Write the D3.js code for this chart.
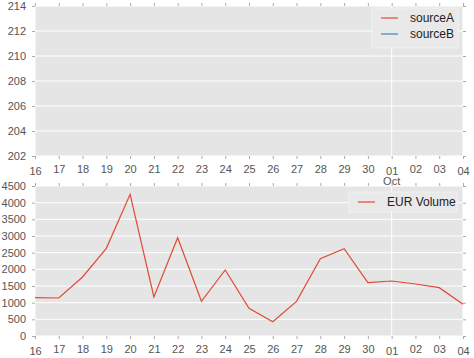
<!DOCTYPE html>
<html>
<head>
<meta charset="utf-8">
<script src="https://cdn.jsdelivr.net/npm/d3@7"></script>
<style>
  body { margin: 0; background: #fff; }
  svg text { font-family: "Liberation Sans", Arial, sans-serif; }
</style>
</head>
<body>
<div id="chart"></div>
<script>
// data
const days = ["2014-09-16", "2014-09-17", "2014-09-18", "2014-09-19", "2014-09-20", "2014-09-21",
    "2014-09-22", "2014-09-23", "2014-09-24", "2014-09-25", "2014-09-26", "2014-09-27",
    "2014-09-28", "2014-09-29", "2014-09-30", "2014-10-01", "2014-10-02", "2014-10-03", "2014-10-04"];
const eurVolume = [1150, 1140, 1770, 2630, 4250, 1170, 2950, 1040, 1980, 830, 430, 1040,
    2320, 2620, 1600, 1650, 1560, 1450, 950];
const sourceA = [];
const sourceB = [];
const topTicks = [202, 204, 206, 208, 210, 212, 214];
const bottomTicks = [0, 500, 1000, 1500, 2000, 2500, 3000, 3500, 4000, 4500];
const majorDays = ["2014-09-16", "2014-10-01", "2014-10-04"];

const parse = d3.timeParse("%Y-%m-%d");
const dates = days.map(parse);
const majors = majorDays.map(d => +parse(d));

const W = 474, H = 358;
const left = 35, right = 463;
const panels = [
    { top: 6, bottom: 156, domain: [202, 214], ticks: topTicks, month: true,
      series: [{ name: "sourceA", values: sourceA, color: "#E24A33" },
               { name: "sourceB", values: sourceB, color: "#348ABD" }],
      legend: { x: 372, y: 8, w: 86, h: 40 } },
    { top: 186, bottom: 336, domain: [0, 4500], ticks: bottomTicks, month: false,
      series: [{ name: "EUR Volume", values: eurVolume, color: "#E24A33" }],
      legend: { x: 349, y: 192, w: 108, h: 20 } }
];

const svg = d3.select("#chart").append("svg")
    .attr("width", W)
    .attr("height", H);

const x = d3.scaleTime()
    .domain(d3.extent(dates))
    .range([left, right]);

panels.forEach(p => {
    const y = d3.scaleLinear().domain(p.domain).range([p.bottom, p.top]);
    const g = svg.append("g");

    // background
    g.append("rect")
        .attr("x", left).attr("y", p.top)
        .attr("width", right - left).attr("height", p.bottom - p.top)
        .attr("fill", "#e5e5e5");

    // horizontal grid
    g.selectAll(".hgrid").data(p.ticks).enter().append("line")
        .attr("x1", left).attr("x2", right)
        .attr("y1", d => y(d)).attr("y2", d => y(d))
        .attr("stroke", "#fff").attr("stroke-width", 1);

    // vertical grid on major ticks
    g.selectAll(".vgrid").data(majors).enter().append("line")
        .attr("x1", d => x(d)).attr("x2", d => x(d))
        .attr("y1", p.top).attr("y2", p.bottom)
        .attr("stroke", "#fff").attr("stroke-width", 1);

    // y axis
    const yAxis = g.append("g")
        .attr("transform", `translate(${left},0)`)
        .call(d3.axisLeft(y).tickValues(p.ticks).tickSize(3).tickPadding(6).tickFormat(d3.format("d")));
    yAxis.select(".domain").remove();
    yAxis.selectAll("line").attr("stroke", "#aaa");
    yAxis.selectAll("text").attr("fill", "#555").style("font-size", "11px");

    // right side ticks
    const yRight = g.append("g")
        .attr("transform", `translate(${right},0)`)
        .call(d3.axisRight(y).tickValues(p.ticks).tickSize(3).tickFormat(""));
    yRight.select(".domain").remove();
    yRight.selectAll("line").attr("stroke", "#aaa");

    // x axis
    const xAxis = g.append("g")
        .attr("transform", `translate(0,${p.bottom})`)
        .call(d3.axisBottom(x).tickValues(dates).tickSize(3).tickFormat(d3.timeFormat("%d")));
    xAxis.select(".domain").remove();
    xAxis.selectAll("line").attr("stroke", "#aaa");
    xAxis.selectAll("text")
        .attr("fill", "#555")
        .style("font-size", "11px")
        .attr("dy", null)
        .attr("y", d => majors.includes(+d) ? 19 : 16.5);

    // top ticks
    const xTop = g.append("g")
        .attr("transform", `translate(0,${p.top})`)
        .call(d3.axisTop(x).tickValues(dates).tickSize(3).tickFormat(""));
    xTop.select(".domain").remove();
    xTop.selectAll("line").attr("stroke", "#aaa");

    // month label (the lower one falls below the window)
    if (p.month) {
        g.append("text")
            .attr("x", x(parse("2014-10-01")))
            .attr("y", p.bottom + 29)
            .attr("text-anchor", "middle")
            .attr("fill", "#555")
            .style("font-size", "11px")
            .text("Oct");
    }

    // lines
    const line = d3.line()
        .x((d, i) => x(dates[i]))
        .y(d => y(d));
    p.series.forEach(s => {
        if (s.values.length) {
            g.append("path")
                .datum(s.values)
                .attr("fill", "none")
                .attr("stroke", s.color)
                .attr("stroke-width", 1.2)
                .attr("d", line);
        }
    });

    // legend
    const L = p.legend;
    g.append("rect")
        .attr("x", L.x).attr("y", L.y)
        .attr("width", L.w).attr("height", L.h)
        .attr("fill", "#e9e9e9")
        .attr("stroke", "#f2f2f2");
    p.series.forEach((s, i) => {
        const ly = L.y + 10 + i * 16;
        g.append("line")
            .attr("x1", L.x + 9).attr("x2", L.x + 26)
            .attr("y1", ly).attr("y2", ly)
            .attr("stroke", s.color).attr("stroke-width", 1.2);
        g.append("text")
            .attr("x", L.x + 38).attr("y", ly)
            .attr("dy", "0.35em")
            .attr("fill", "#222")
            .style("font-size", "12px")
            .text(s.name);
    });
});
</script>
</body>
</html>
